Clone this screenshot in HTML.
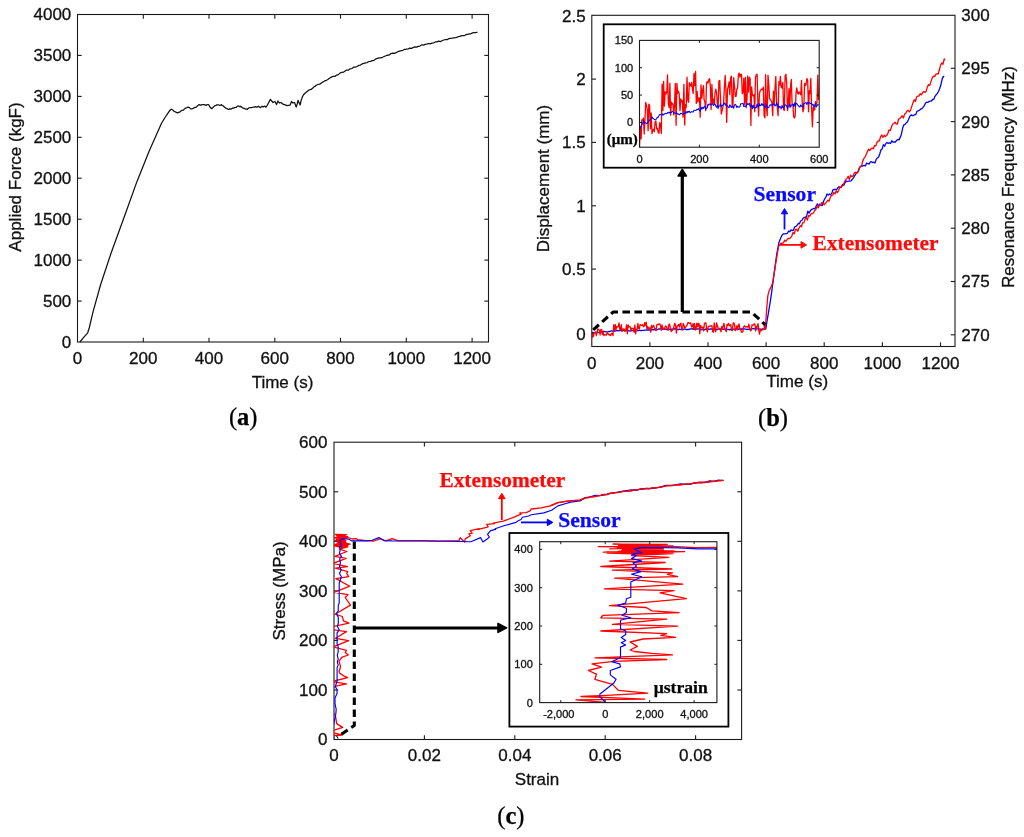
<!DOCTYPE html>
<html lang="en"><head><meta charset="utf-8"><title>Figure: applied force, displacement and stress-strain</title>
<style>html,body{margin:0;padding:0;background:#fff;}svg{display:block;}text{white-space:pre;}</style></head><body>
<svg width="1024" height="837" viewBox="0 0 1024 837" role="img" aria-label="Three-panel figure">
<rect x="0" y="0" width="1024" height="837" fill="#fff"/>
<rect x="77.5" y="14.5" width="411" height="327.5" fill="none" stroke="#1a1a1a" stroke-width="1.1"/>
<text transform="translate(77.5 364.2) scale(1.025 1)" font-family='"Liberation Sans", Arial, Helvetica, sans-serif' font-size="16.6" font-weight="normal" text-anchor="middle" fill="#111" stroke="#111" stroke-width="0.3" >0</text>
<line x1="143.3" y1="342" x2="143.3" y2="337.8" stroke="#1a1a1a" stroke-width="1.1" />
<line x1="143.3" y1="14.5" x2="143.3" y2="18.7" stroke="#1a1a1a" stroke-width="1.1" />
<text transform="translate(143.3 364.2) scale(1.025 1)" font-family='"Liberation Sans", Arial, Helvetica, sans-serif' font-size="16.6" font-weight="normal" text-anchor="middle" fill="#111" stroke="#111" stroke-width="0.3" >200</text>
<line x1="209" y1="342" x2="209" y2="337.8" stroke="#1a1a1a" stroke-width="1.1" />
<line x1="209" y1="14.5" x2="209" y2="18.7" stroke="#1a1a1a" stroke-width="1.1" />
<text transform="translate(209 364.2) scale(1.025 1)" font-family='"Liberation Sans", Arial, Helvetica, sans-serif' font-size="16.6" font-weight="normal" text-anchor="middle" fill="#111" stroke="#111" stroke-width="0.3" >400</text>
<line x1="274.8" y1="342" x2="274.8" y2="337.8" stroke="#1a1a1a" stroke-width="1.1" />
<line x1="274.8" y1="14.5" x2="274.8" y2="18.7" stroke="#1a1a1a" stroke-width="1.1" />
<text transform="translate(274.8 364.2) scale(1.025 1)" font-family='"Liberation Sans", Arial, Helvetica, sans-serif' font-size="16.6" font-weight="normal" text-anchor="middle" fill="#111" stroke="#111" stroke-width="0.3" >600</text>
<line x1="340.5" y1="342" x2="340.5" y2="337.8" stroke="#1a1a1a" stroke-width="1.1" />
<line x1="340.5" y1="14.5" x2="340.5" y2="18.7" stroke="#1a1a1a" stroke-width="1.1" />
<text transform="translate(340.5 364.2) scale(1.025 1)" font-family='"Liberation Sans", Arial, Helvetica, sans-serif' font-size="16.6" font-weight="normal" text-anchor="middle" fill="#111" stroke="#111" stroke-width="0.3" >800</text>
<line x1="406.3" y1="342" x2="406.3" y2="337.8" stroke="#1a1a1a" stroke-width="1.1" />
<line x1="406.3" y1="14.5" x2="406.3" y2="18.7" stroke="#1a1a1a" stroke-width="1.1" />
<text transform="translate(406.3 364.2) scale(1.025 1)" font-family='"Liberation Sans", Arial, Helvetica, sans-serif' font-size="16.6" font-weight="normal" text-anchor="middle" fill="#111" stroke="#111" stroke-width="0.3" >1000</text>
<line x1="472.1" y1="342" x2="472.1" y2="337.8" stroke="#1a1a1a" stroke-width="1.1" />
<line x1="472.1" y1="14.5" x2="472.1" y2="18.7" stroke="#1a1a1a" stroke-width="1.1" />
<text transform="translate(472.1 364.2) scale(1.025 1)" font-family='"Liberation Sans", Arial, Helvetica, sans-serif' font-size="16.6" font-weight="normal" text-anchor="middle" fill="#111" stroke="#111" stroke-width="0.3" >1200</text>
<text transform="translate(71.3 347.9) scale(1.025 1)" font-family='"Liberation Sans", Arial, Helvetica, sans-serif' font-size="16.6" font-weight="normal" text-anchor="end" fill="#111" stroke="#111" stroke-width="0.3" >0</text>
<line x1="77.5" y1="301.1" x2="81.7" y2="301.1" stroke="#1a1a1a" stroke-width="1.1" />
<line x1="488.5" y1="301.1" x2="484.3" y2="301.1" stroke="#1a1a1a" stroke-width="1.1" />
<text transform="translate(71.3 307) scale(1.025 1)" font-family='"Liberation Sans", Arial, Helvetica, sans-serif' font-size="16.6" font-weight="normal" text-anchor="end" fill="#111" stroke="#111" stroke-width="0.3" >500</text>
<line x1="77.5" y1="260.1" x2="81.7" y2="260.1" stroke="#1a1a1a" stroke-width="1.1" />
<line x1="488.5" y1="260.1" x2="484.3" y2="260.1" stroke="#1a1a1a" stroke-width="1.1" />
<text transform="translate(71.3 266) scale(1.025 1)" font-family='"Liberation Sans", Arial, Helvetica, sans-serif' font-size="16.6" font-weight="normal" text-anchor="end" fill="#111" stroke="#111" stroke-width="0.3" >1000</text>
<line x1="77.5" y1="219.2" x2="81.7" y2="219.2" stroke="#1a1a1a" stroke-width="1.1" />
<line x1="488.5" y1="219.2" x2="484.3" y2="219.2" stroke="#1a1a1a" stroke-width="1.1" />
<text transform="translate(71.3 225.1) scale(1.025 1)" font-family='"Liberation Sans", Arial, Helvetica, sans-serif' font-size="16.6" font-weight="normal" text-anchor="end" fill="#111" stroke="#111" stroke-width="0.3" >1500</text>
<line x1="77.5" y1="178.2" x2="81.7" y2="178.2" stroke="#1a1a1a" stroke-width="1.1" />
<line x1="488.5" y1="178.2" x2="484.3" y2="178.2" stroke="#1a1a1a" stroke-width="1.1" />
<text transform="translate(71.3 184.2) scale(1.025 1)" font-family='"Liberation Sans", Arial, Helvetica, sans-serif' font-size="16.6" font-weight="normal" text-anchor="end" fill="#111" stroke="#111" stroke-width="0.3" >2000</text>
<line x1="77.5" y1="137.3" x2="81.7" y2="137.3" stroke="#1a1a1a" stroke-width="1.1" />
<line x1="488.5" y1="137.3" x2="484.3" y2="137.3" stroke="#1a1a1a" stroke-width="1.1" />
<text transform="translate(71.3 143.2) scale(1.025 1)" font-family='"Liberation Sans", Arial, Helvetica, sans-serif' font-size="16.6" font-weight="normal" text-anchor="end" fill="#111" stroke="#111" stroke-width="0.3" >2500</text>
<line x1="77.5" y1="96.4" x2="81.7" y2="96.4" stroke="#1a1a1a" stroke-width="1.1" />
<line x1="488.5" y1="96.4" x2="484.3" y2="96.4" stroke="#1a1a1a" stroke-width="1.1" />
<text transform="translate(71.3 102.3) scale(1.025 1)" font-family='"Liberation Sans", Arial, Helvetica, sans-serif' font-size="16.6" font-weight="normal" text-anchor="end" fill="#111" stroke="#111" stroke-width="0.3" >3000</text>
<line x1="77.5" y1="55.4" x2="81.7" y2="55.4" stroke="#1a1a1a" stroke-width="1.1" />
<line x1="488.5" y1="55.4" x2="484.3" y2="55.4" stroke="#1a1a1a" stroke-width="1.1" />
<text transform="translate(71.3 61.3) scale(1.025 1)" font-family='"Liberation Sans", Arial, Helvetica, sans-serif' font-size="16.6" font-weight="normal" text-anchor="end" fill="#111" stroke="#111" stroke-width="0.3" >3500</text>
<text transform="translate(71.3 20.4) scale(1.025 1)" font-family='"Liberation Sans", Arial, Helvetica, sans-serif' font-size="16.6" font-weight="normal" text-anchor="end" fill="#111" stroke="#111" stroke-width="0.3" >4000</text>
<text transform="translate(21.2 177) rotate(-90) scale(1.025 1)" font-family='"Liberation Sans", Arial, Helvetica, sans-serif' font-size="16.6" font-weight="normal" text-anchor="middle" fill="#111" stroke="#111" stroke-width="0.3" >Applied Force (kgF)</text>
<text transform="translate(282.5 387.5) scale(1.025 1)" font-family='"Liberation Sans", Arial, Helvetica, sans-serif' font-size="16.6" font-weight="normal" text-anchor="middle" fill="#111" stroke="#111" stroke-width="0.3" >Time (s)</text>
<polyline points="80,342 83.2,337.8 87.7,332.8 89.2,328 92.9,312.4 100.5,285 111.1,253 123.3,219.5 137,181.4 149.2,150.9 161.4,123.5 165,117.5 167.5,113.8 169.5,110.8 171.2,109.2 172.5,109.8 174,111.2 177.4,112.9 180,111.8 181.6,110.6 182,110.3 183.2,110.2 184.8,108.6 185,108.3 186.4,107.8 187.2,107.5 188,107.1 189.6,107.5 190,108.2 191.2,109 192.8,108.7 194.4,107.6 195,107.4 196,107.4 197.6,105.8 199.2,104.6 200.8,105.3 201.2,104.9 202.4,104.7 204,104.6 205.6,105.2 206,105.5 207.2,104.6 208.5,104.6 208.8,105 210.4,107.6 212,108.6 213.6,106.8 215.2,105.6 216,105.5 216.8,104.8 218.4,104.8 220,105.5 221.6,104.6 222,105.5 223.2,105.8 224.8,107.5 226.4,108.4 228,109.1 229,109.4 229.6,108.8 231.2,109.1 232.8,107.9 234,108.1 234.4,107.5 236,107.4 237.6,106.1 239.2,106.1 240,106.9 240.8,106.2 242.4,107.8 244,108.3 245.6,109.1 247.2,109.1 247.4,109.3 248.8,107.9 250.4,107.5 252,107.5 253.6,107 255,107.1 255.2,106.6 256.8,107.3 258.4,106.2 260,107.6 261.6,106.7 262,106.2 263.2,106.9 264.8,106.1 265.7,107.2 266.4,106.7 267.5,104.7 270.4,99.4 273,102.5 275,101.5 276.5,104.6 278,101 279.5,103 281,102.5 283,104.2 287.2,105.7 290,105.2 291.5,101.4 293,103 294.5,102.5 296.2,107 297.2,104 298,100.3 300.1,105 301,101 302.3,97.1 303.5,94.8 305.5,92.8 306,92.5 307.7,91 309.4,89.8 311.1,89.4 312.8,88 314.5,86.4 315.2,86.3 316.2,85.3 317.9,84.5 319.6,84.1 321.3,83.1 323,82 324.7,80.9 326.4,80.3 328,79.5 328.1,79.2 329.8,78 331.5,77.1 333.2,76.3 334.9,76.4 336.6,75.1 338.3,74.6 340,73.1 341.7,72.3 342,72.5 343.4,72.2 345.1,71 346.8,70 348.5,70.1 350.2,68.8 351.9,68.5 353.6,67.2 355,67.1 355.3,67.2 357,66.5 358.7,65.4 360.4,65.1 362.1,63.9 363.8,63.4 365.5,62.8 367.2,62.6 368.9,61.5 370.6,61.4 372.3,60.7 374,60.3 375.7,59.1 377.4,58.3 379.1,57.8 380.8,57.8 382.5,57.3 384.2,56.5 385.9,55.7 387,55.2 387.6,55.4 389.3,54.9 391,53.6 392.7,53.2 394.4,53.3 396.1,52.7 397.8,51.7 399.5,51.1 401.2,50.7 402.9,50.3 404.6,49.3 405.5,49.5 406.3,49.2 408,49 409.7,48.1 411.4,48.4 413.1,47.7 414.8,46.9 416.5,47.1 418.2,46.4 419.9,46.1 421.6,44.9 423,44.8 423.3,45.2 425,44.4 426.7,44.2 428.4,43.5 430.1,43.9 431.8,43.1 433.5,43 435.2,41.9 436.9,41.9 438.6,41.1 440.3,41.6 442,40.8 443.7,40 445.4,39.5 447.1,39.6 448.8,38.7 450.5,38.4 452.2,38.2 453.9,37.9 455.6,37.6 457.3,37.2 459,36.5 460,36.4 460.7,35.9 462.4,35.6 464.1,35.7 465.8,34.7 467.5,34.3 469.2,33.9 470.9,33.8 472.6,32.9 474.3,32.5 476,32.5 477.5,32.1" fill="none" stroke="#111" stroke-width="1.25" stroke-linejoin="round" />
<text transform="translate(243.2 425.4)" font-family='"Liberation Serif", "Times New Roman", Times, serif' font-size="24.5" font-weight="normal" text-anchor="middle" fill="#000" stroke="#000" stroke-width="0.25" >(<tspan font-weight="bold">a</tspan>)</text>
<rect x="591.8" y="15.3" width="363.2" height="331.2" fill="none" stroke="#1a1a1a" stroke-width="1.1"/>
<text transform="translate(591.8 368.8) scale(1.025 1)" font-family='"Liberation Sans", Arial, Helvetica, sans-serif' font-size="16.6" font-weight="normal" text-anchor="middle" fill="#111" stroke="#111" stroke-width="0.3" >0</text>
<line x1="649.9" y1="346.5" x2="649.9" y2="342.3" stroke="#1a1a1a" stroke-width="1.1" />
<text transform="translate(649.9 368.8) scale(1.025 1)" font-family='"Liberation Sans", Arial, Helvetica, sans-serif' font-size="16.6" font-weight="normal" text-anchor="middle" fill="#111" stroke="#111" stroke-width="0.3" >200</text>
<line x1="708" y1="346.5" x2="708" y2="342.3" stroke="#1a1a1a" stroke-width="1.1" />
<text transform="translate(708 368.8) scale(1.025 1)" font-family='"Liberation Sans", Arial, Helvetica, sans-serif' font-size="16.6" font-weight="normal" text-anchor="middle" fill="#111" stroke="#111" stroke-width="0.3" >400</text>
<line x1="766.1" y1="346.5" x2="766.1" y2="342.3" stroke="#1a1a1a" stroke-width="1.1" />
<text transform="translate(766.1 368.8) scale(1.025 1)" font-family='"Liberation Sans", Arial, Helvetica, sans-serif' font-size="16.6" font-weight="normal" text-anchor="middle" fill="#111" stroke="#111" stroke-width="0.3" >600</text>
<line x1="824.2" y1="346.5" x2="824.2" y2="342.3" stroke="#1a1a1a" stroke-width="1.1" />
<text transform="translate(824.2 368.8) scale(1.025 1)" font-family='"Liberation Sans", Arial, Helvetica, sans-serif' font-size="16.6" font-weight="normal" text-anchor="middle" fill="#111" stroke="#111" stroke-width="0.3" >800</text>
<line x1="882.4" y1="346.5" x2="882.4" y2="342.3" stroke="#1a1a1a" stroke-width="1.1" />
<text transform="translate(882.4 368.8) scale(1.025 1)" font-family='"Liberation Sans", Arial, Helvetica, sans-serif' font-size="16.6" font-weight="normal" text-anchor="middle" fill="#111" stroke="#111" stroke-width="0.3" >1000</text>
<line x1="940.5" y1="346.5" x2="940.5" y2="342.3" stroke="#1a1a1a" stroke-width="1.1" />
<text transform="translate(940.5 368.8) scale(1.025 1)" font-family='"Liberation Sans", Arial, Helvetica, sans-serif' font-size="16.6" font-weight="normal" text-anchor="middle" fill="#111" stroke="#111" stroke-width="0.3" >1200</text>
<line x1="591.8" y1="332.5" x2="596" y2="332.5" stroke="#1a1a1a" stroke-width="1.1" />
<text transform="translate(585.6 339.5) scale(1.025 1)" font-family='"Liberation Sans", Arial, Helvetica, sans-serif' font-size="16.6" font-weight="normal" text-anchor="end" fill="#111" stroke="#111" stroke-width="0.3" >0</text>
<line x1="591.8" y1="269.1" x2="596" y2="269.1" stroke="#1a1a1a" stroke-width="1.1" />
<text transform="translate(585.6 275) scale(1.025 1)" font-family='"Liberation Sans", Arial, Helvetica, sans-serif' font-size="16.6" font-weight="normal" text-anchor="end" fill="#111" stroke="#111" stroke-width="0.3" >0.5</text>
<line x1="591.8" y1="205.8" x2="596" y2="205.8" stroke="#1a1a1a" stroke-width="1.1" />
<text transform="translate(585.6 211.7) scale(1.025 1)" font-family='"Liberation Sans", Arial, Helvetica, sans-serif' font-size="16.6" font-weight="normal" text-anchor="end" fill="#111" stroke="#111" stroke-width="0.3" >1</text>
<line x1="591.8" y1="142.4" x2="596" y2="142.4" stroke="#1a1a1a" stroke-width="1.1" />
<text transform="translate(585.6 148.3) scale(1.025 1)" font-family='"Liberation Sans", Arial, Helvetica, sans-serif' font-size="16.6" font-weight="normal" text-anchor="end" fill="#111" stroke="#111" stroke-width="0.3" >1.5</text>
<line x1="591.8" y1="79.1" x2="596" y2="79.1" stroke="#1a1a1a" stroke-width="1.1" />
<text transform="translate(585.6 85) scale(1.025 1)" font-family='"Liberation Sans", Arial, Helvetica, sans-serif' font-size="16.6" font-weight="normal" text-anchor="end" fill="#111" stroke="#111" stroke-width="0.3" >2</text>
<text transform="translate(585.6 21.6) scale(1.025 1)" font-family='"Liberation Sans", Arial, Helvetica, sans-serif' font-size="16.6" font-weight="normal" text-anchor="end" fill="#111" stroke="#111" stroke-width="0.3" >2.5</text>
<line x1="955" y1="334.8" x2="950.8" y2="334.8" stroke="#1a1a1a" stroke-width="1.1" />
<text transform="translate(961.3 340.7) scale(1.025 1)" font-family='"Liberation Sans", Arial, Helvetica, sans-serif' font-size="16.6" font-weight="normal" text-anchor="start" fill="#111" stroke="#111" stroke-width="0.3" >270</text>
<line x1="955" y1="281.5" x2="950.8" y2="281.5" stroke="#1a1a1a" stroke-width="1.1" />
<text transform="translate(961.3 287.4) scale(1.025 1)" font-family='"Liberation Sans", Arial, Helvetica, sans-serif' font-size="16.6" font-weight="normal" text-anchor="start" fill="#111" stroke="#111" stroke-width="0.3" >275</text>
<line x1="955" y1="228.2" x2="950.8" y2="228.2" stroke="#1a1a1a" stroke-width="1.1" />
<text transform="translate(961.3 234.1) scale(1.025 1)" font-family='"Liberation Sans", Arial, Helvetica, sans-serif' font-size="16.6" font-weight="normal" text-anchor="start" fill="#111" stroke="#111" stroke-width="0.3" >280</text>
<line x1="955" y1="174.9" x2="950.8" y2="174.9" stroke="#1a1a1a" stroke-width="1.1" />
<text transform="translate(961.3 180.8) scale(1.025 1)" font-family='"Liberation Sans", Arial, Helvetica, sans-serif' font-size="16.6" font-weight="normal" text-anchor="start" fill="#111" stroke="#111" stroke-width="0.3" >285</text>
<line x1="955" y1="121.6" x2="950.8" y2="121.6" stroke="#1a1a1a" stroke-width="1.1" />
<text transform="translate(961.3 127.5) scale(1.025 1)" font-family='"Liberation Sans", Arial, Helvetica, sans-serif' font-size="16.6" font-weight="normal" text-anchor="start" fill="#111" stroke="#111" stroke-width="0.3" >290</text>
<line x1="955" y1="68.3" x2="950.8" y2="68.3" stroke="#1a1a1a" stroke-width="1.1" />
<text transform="translate(961.3 74.2) scale(1.025 1)" font-family='"Liberation Sans", Arial, Helvetica, sans-serif' font-size="16.6" font-weight="normal" text-anchor="start" fill="#111" stroke="#111" stroke-width="0.3" >295</text>
<text transform="translate(961.3 20.9) scale(1.025 1)" font-family='"Liberation Sans", Arial, Helvetica, sans-serif' font-size="16.6" font-weight="normal" text-anchor="start" fill="#111" stroke="#111" stroke-width="0.3" >300</text>
<text transform="translate(549.4 178.5) rotate(-90) scale(1.025 1)" font-family='"Liberation Sans", Arial, Helvetica, sans-serif' font-size="16.6" font-weight="normal" text-anchor="middle" fill="#111" stroke="#111" stroke-width="0.3" >Displacement (mm)</text>
<text transform="translate(1014.3 177) rotate(-90) scale(1.025 1)" font-family='"Liberation Sans", Arial, Helvetica, sans-serif' font-size="16.6" font-weight="normal" text-anchor="middle" fill="#111" stroke="#111" stroke-width="0.3" >Resonance Frequency (MHz)</text>
<text transform="translate(797.2 387.2) scale(1.025 1)" font-family='"Liberation Sans", Arial, Helvetica, sans-serif' font-size="16.6" font-weight="normal" text-anchor="middle" fill="#111" stroke="#111" stroke-width="0.3" >Time (s)</text>
<polyline points="591.8,333.6 592.6,333.5 593.3,333.1 594.1,332.9 594.8,332.6 595.6,332.1 596.3,332.5 597.1,332.5 597.8,332.5 598.6,332.7 599.4,332.5 600.1,332.3 600.9,332.2 601.6,332 602.4,331.9 603.1,331.6 603.9,331.4 604.6,331.6 605.4,331.7 606.2,331.9 606.9,331.9 607.7,331.9 608.4,331.7 609.2,331.5 609.9,331.5 610.7,331.1 611.4,330.9 612.2,330.9 613,331 613.7,331.1 614.5,330.8 615.2,331 616,330.9 616.7,330.7 617.5,330.7 618.2,330.8 619,330.6 619.8,330.5 620.5,330.7 621.3,330.5 622,330.6 622.8,330.6 623.5,330.3 624.3,330.4 625,330.7 625.8,330.6 626.6,330.7 627.3,330.7 628.1,330.7 628.8,330.9 629.6,330.8 630.3,331 631.1,330.9 631.8,330.7 632.6,330.7 633.4,330.9 634.1,330.9 634.9,330.7 635.6,330.7 636.4,330.5 637.1,330.7 637.9,330.3 638.6,330.6 639.4,330.3 640.1,330.3 640.9,330.6 641.7,330.5 642.4,330.4 643.2,330.4 643.9,330.4 644.7,330.1 645.4,330.1 646.2,330.1 646.9,330.1 647.7,329.9 648.5,330 649.2,329.8 650,330.2 650.7,330.3 651.5,329.5 652.2,329.9 653,329.5 653.7,329.8 654.5,329.5 655.3,329.3 656,330 656.8,329.7 657.5,329.7 658.3,328.9 659,329.1 659.8,328.9 660.5,328.9 661.3,329 662.1,329 662.8,328.9 663.6,329.2 664.3,329 665.1,328.9 665.8,329.3 666.6,329.5 667.3,329.1 668.1,329.6 668.9,329.4 669.6,329.3 670.4,328.9 671.1,329.5 671.9,329.2 672.6,329.2 673.4,328.8 674.1,328.7 674.9,329.1 675.7,328.9 676.4,329.3 677.2,329.3 677.9,329.5 678.7,329.6 679.4,329 680.2,329.3 680.9,329.6 681.7,329.3 682.5,329.4 683.2,329.7 684,329.1 684.7,329 685.5,329.2 686.2,329.6 687,329.3 687.7,329.5 688.5,329.5 689.3,329.4 690,328.8 690.8,328.9 691.5,328.9 692.3,328.7 693,329.4 693.8,329.3 694.5,329.4 695.3,329.4 696.1,328.8 696.8,329 697.6,328.9 698.3,328.8 699.1,329.3 699.8,329.5 700.6,329 701.3,329.8 702.1,329.1 702.9,329.6 703.6,329.8 704.4,329.6 705.1,329.6 705.9,328.9 706.6,329.5 707.4,329.4 708.1,328.9 708.9,329.3 709.7,329.2 710.4,328.8 711.2,329.2 711.9,328.9 712.7,329.3 713.4,329.5 714.2,329.6 714.9,328.9 715.7,329.6 716.5,329.7 717.2,329.6 718,329.2 718.7,329 719.5,329.2 720.2,329 721,329.1 721.7,328.9 722.5,328.9 723.2,329.3 724,329.1 724.8,328.6 725.5,329.2 726.3,329.1 727,329.7 727.8,329.4 728.5,329.4 729.3,329.9 730,329.2 730.8,329.6 731.6,329.6 732.3,329.3 733.1,329.1 733.8,329.1 734.6,329.3 735.3,329.7 736.1,329.3 736.8,329.2 737.6,328.9 738.4,329.5 739.1,329.2 739.9,329 740.6,328.9 741.4,329.4 742.1,328.7 742.9,329.3 743.6,328.7 744.4,328.8 745.2,329.1 745.9,329.2 746.7,329.4 747.4,329.5 748.2,329.1 748.9,329.3 749.7,329.4 750.4,329.4 751.2,328.8 752,328.8 752.7,328.7 753.5,328.6 754.2,329 755,328.6 755.7,328.8 756.5,328.6 757.2,328.8 758,328.8 758.8,328.8 759.5,329.1 760.3,329 761,329.5 761.8,329.3 762.5,328.9 763.3,329.5 764,329.3 764.8,329 765.6,329.1 765.8,328.9 767,321.2 768.2,314.1 769.4,306.8 770.6,299.7 771.8,291.2 773,281.9 774.2,273 775.4,264 776.6,255.1 777.8,248.3 779,242.3 780.2,239.3 781.4,236.5 782.6,234.4 783.8,233.9 785,233.9 786.2,233.6 787.4,233.3 788.6,231 789.8,231.8 791,229.9 792.2,230.5 793.4,230.3 794.6,227 795.8,226.4 797,225.5 798.2,223.5 799.4,223.8 800.6,221 801.8,220.5 803,218.6 804.2,217.5 805.4,217.2 806.6,216.4 807.8,211.2 809,213.1 810.2,211.1 811.4,209.3 812.6,209.1 813.8,208.4 815,208.9 816.2,206 817.4,203.9 818.6,206.3 819.8,204 821,205.3 822.2,205.5 823.4,201.8 824.6,198.9 825.8,197.3 827,194 828.2,195.1 829.4,193.9 830.6,194.8 831.8,193.2 833,189.8 834.2,189.3 835.4,189.5 836.6,189.6 837.8,187.8 839,186.8 840.2,187.6 841.4,186.9 842.6,184.4 843.8,185.3 845,182.8 846.2,181.1 847.4,181.5 848.6,181.1 849.8,181.1 851,180.9 852.2,179.5 853.4,177.8 854.6,175.9 855.8,174.1 857,172.5 858.2,171.3 859.4,167.8 860.6,166.4 861.8,166.4 863,165.6 864.2,165.4 865.4,166 866.6,163 867.8,163.7 869,164.2 870.2,162.1 871.4,161.7 872.6,162.6 873.8,162.2 875,163 876.2,159.4 877.4,157.9 878.6,157 879.8,153.7 881,149.7 882.2,148.9 883.4,144.7 884.6,146.2 885.8,143.6 887,142.4 888.2,143.6 889.4,142.7 890.6,143.5 891.8,140.7 893,142.1 894.2,141.8 895.4,142 896.6,140.4 897.8,139.4 899,139.9 900.2,137.4 901.4,134.2 902.6,128.4 903.8,124.8 905,124.5 906.2,122.8 907.4,122 908.6,119.3 909.8,116.4 911,114.9 912.2,115.6 913.4,115.5 914.6,114.7 915.8,114.5 917,111.1 918.2,110.9 919.4,110.2 920.6,109.2 921.8,108.7 923,107.4 924.2,105.9 925.4,103.3 926.6,102.1 927.8,102.4 929,101.4 930.2,101.1 931.4,101 932.6,99.5 933.8,99.3 935,96.3 936.2,94.7 937.4,93.4 938.6,91.3 939.8,88.3 941,84.2 942.2,78.9 943.4,76.4 944.2,77.1" fill="none" stroke="#0000ff" stroke-width="1.3" stroke-linejoin="round" />
<polyline points="591.8,338.5 592.6,334.1 593.3,336.7 594.1,332.7 594.8,332.7 595.6,332.2 596.3,335.7 597.1,332.2 597.8,328.9 598.6,329.6 599.4,330.5 600.1,335 600.9,329.3 601.6,329.5 602.4,334.6 603.1,331.2 603.9,335.6 604.6,334.9 605.4,334.7 606.2,335.2 606.9,333.1 607.7,332.9 608.4,334.6 609.2,334.4 609.9,335.4 610.7,335.5 611.4,333.3 612.2,333.7 613,335.6 613.7,324.9 614.5,330.6 615.2,324.3 616,329.7 616.7,326.6 617.5,327 618.2,326.7 619,322.9 619.8,329.1 620.5,330 621.3,324.7 622,331.7 622.8,328.8 623.5,329.2 624.3,329.2 625,331.6 625.8,329.5 626.6,324.8 627.3,333.8 628.1,324.8 628.8,327 629.6,326.4 630.3,327.1 631.1,330.7 631.8,328.1 632.6,328.7 633.4,328.5 634.1,332.1 634.9,325 635.6,333.8 636.4,329.4 637.1,330 637.9,323.4 638.6,328.5 639.4,328.9 640.1,324.6 640.9,325 641.7,325.4 642.4,324.6 643.2,326.2 643.9,326.9 644.7,322.6 645.4,325.3 646.2,322.2 646.9,329.1 647.7,326.5 648.5,328.8 649.2,327.9 650,328 650.7,332.1 651.5,325.1 652.2,328 653,326.4 653.7,325.3 654.5,328.3 655.3,328.8 656,330.7 656.8,324.8 657.5,324.4 658.3,324.7 659,324 659.8,323.8 660.5,325.7 661.3,330.4 662.1,325 662.8,329.1 663.6,328.1 664.3,329.2 665.1,326.9 665.8,326 666.6,326.8 667.3,329.3 668.1,330.2 668.9,324.3 669.6,324.1 670.4,328.1 671.1,331.4 671.9,330.7 672.6,330 673.4,329 674.1,325.6 674.9,323.1 675.7,326.4 676.4,333.2 677.2,326.1 677.9,325.5 678.7,324.5 679.4,327.2 680.2,323.7 680.9,323.2 681.7,329.6 682.5,330 683.2,323.5 684,325.4 684.7,327.6 685.5,327.6 686.2,326.1 687,325.7 687.7,322.9 688.5,322.6 689.3,323.5 690,322.9 690.8,322.8 691.5,327 692.3,326.7 693,323.6 693.8,329.3 694.5,323.5 695.3,330 696.1,328.3 696.8,323.2 697.6,326.6 698.3,323.5 699.1,323.7 699.8,333.8 700.6,325.5 701.3,327.3 702.1,327.5 702.9,327.2 703.6,330.9 704.4,323.5 705.1,322.9 705.9,322.8 706.6,328.9 707.4,331.8 708.1,327 708.9,326.3 709.7,326.1 710.4,326 711.2,326.1 711.9,325.6 712.7,331.7 713.4,332.2 714.2,322.9 714.9,329.9 715.7,331.7 716.5,323 717.2,325 718,328 718.7,328.3 719.5,328.5 720.2,328.9 721,331.8 721.7,326.5 722.5,329.3 723.2,325.8 724,323.3 724.8,328.9 725.5,329.9 726.3,331.8 727,324.4 727.8,325.2 728.5,323.3 729.3,325.6 730,325.8 730.8,324.6 731.6,330.5 732.3,330.6 733.1,323.2 733.8,322.8 734.6,324.8 735.3,330.6 736.1,329.4 736.8,325.9 737.6,329.9 738.4,325.2 739.1,324 739.9,329.2 740.6,329.4 741.4,332 742.1,332.3 742.9,331.6 743.6,326.8 744.4,325.8 745.2,326.9 745.9,327.1 746.7,326.6 747.4,326.8 748.2,327.2 748.9,324.1 749.7,328.9 750.4,330.9 751.2,330.2 752,324.8 752.7,325.3 753.5,325 754.2,323.7 755,324.2 755.7,330.9 756.5,326.4 757.2,327 758,323.7 758.8,330.1 759.5,334.2 760.3,330 761,330.5 761.8,330.5 762.5,328.7 763.3,329.3 764,328.9 764.8,323 765.6,328.3 765.4,327.7 766.6,310.1 767.8,295.9 769,291.2 770.2,288.4 771.4,286.2 772.6,283 773.8,275.5 775,268.2 776.2,260.5 777.4,253.3 778.6,246.5 779.8,244.6 781,243.2 782.2,243.5 783.4,243 784.6,240.2 785.8,241.4 787,239.7 788.2,238.3 789.4,238.6 790.6,237.8 791.8,236 793,232.5 794.2,233.7 795.4,229.8 796.6,229.2 797.8,231.2 799,228 800.2,225.7 801.4,226.8 802.6,222.8 803.8,222.9 805,219.4 806.2,217.3 807.4,220.1 808.6,215.4 809.8,216.2 811,213.9 812.2,213.7 813.4,212.9 814.6,210.8 815.8,209.6 817,206.5 818.2,207.9 819.4,204.9 820.6,205.2 821.8,202.5 823,203.2 824.2,204.9 825.4,203.2 826.6,202 827.8,200.3 829,201.2 830.2,197.7 831.4,195.3 832.6,195.2 833.8,192.5 835,193.9 836.2,190.8 837.4,192.6 838.6,190.5 839.8,186.7 841,187.5 842.2,185.9 843.4,184.6 844.6,181.6 845.8,179.7 847,178.3 848.2,176.2 849.4,179.4 850.6,175.2 851.8,176.6 853,176 854.2,173.3 855.4,172.2 856.6,173.4 857.8,172.2 859,169.7 860.2,166.3 861.4,166.4 862.6,161.7 863.8,158.6 865,157.1 866.2,154.4 867.4,151.6 868.6,149.1 869.8,150.6 871,148.8 872.2,147.9 873.4,148.8 874.6,145.5 875.8,145.9 877,142.2 878.2,141 879.4,140.8 880.6,136.6 881.8,134.9 883,137.5 884.2,135.3 885.4,136.5 886.6,135.6 887.8,133.7 889,130 890.2,130.7 891.4,127 892.6,124.2 893.8,123.5 895,122.2 896.2,123.9 897.4,124 898.6,118.9 899.8,118.6 901,117.3 902.2,115.7 903.4,118 904.6,114.1 905.8,113.3 907,110.8 908.2,110.4 909.4,111.9 910.6,110 911.8,106.4 913,102.6 914.2,99.7 915.4,101.5 916.6,97 917.8,96.1 919,96 920.2,93.6 921.4,94.9 922.6,92.6 923.8,91.6 925,92.4 926.2,91.2 927.4,86.9 928.6,84.6 929.8,85.4 931,81.4 932.2,78.1 933.4,76.2 934.6,76.6 935.8,74.4 937,73.7 938.2,74 939.4,69.8 940.6,65.3 941.8,62.9 943,64.2 944.2,58.8 945,60.3" fill="none" stroke="#ff0000" stroke-width="1.3" stroke-linejoin="round" />
<polyline points="593.2,329.8 613.2,312 751.4,312 765.2,324.8" fill="none" stroke="#000" stroke-width="3.1" stroke-dasharray="7.6 4.4" stroke-linejoin="round"/>
<line x1="682.3" y1="312" x2="682.3" y2="176" stroke="#000" stroke-width="3.2" />
<polygon points="682.3,169.4 678.2,176 686.4,176" fill="#000" stroke="#000" stroke-width="1.6" stroke-linejoin="round"/>
<rect x="603.7" y="24.3" width="231.7" height="143.4" fill="#fff" stroke="#000" stroke-width="1.8"/>
<clipPath id="cb"><rect x="639.5" y="40.4" width="179.7" height="106.8"/></clipPath>
<g clip-path="url(#cb)">
<polyline points="639.5,147 640.3,126.8 641.1,138.8 641.8,120 642.6,120.2 643.4,118 644.2,134 645,117.9 645.7,102.5 646.5,105.6 647.3,109.7 648.1,130.7 648.8,104.1 649.6,105.4 650.4,128.8 651.2,113 652,133.7 652.7,130.5 653.5,129.2 654.3,131.8 655.1,122 655.9,121 656.6,128.8 657.4,128.1 658.2,132.6 659,133.1 659.7,122.7 660.5,124.6 661.3,133.5 662.1,84.1 662.9,110.4 663.6,81.4 664.4,106 665.2,91.7 666,93.9 666.8,92.1 667.5,74.8 668.3,103.2 669.1,107.5 669.9,83.2 670.6,115.2 671.4,102.1 672.2,104.1 673,104 673.8,114.9 674.5,105.3 675.3,83.4 676.1,125.3 676.9,83.3 677.7,93.4 678.4,91.1 679.2,93.9 680,110.6 680.8,98.9 681.5,101.8 682.3,100.7 683.1,117.1 683.9,84.3 684.7,125.1 685.4,104.6 686.2,107.7 687,77.2 687.8,100.5 688.6,102.3 689.3,82.7 690.1,84.6 690.9,86.1 691.7,82.5 692.5,89.9 693.2,93.4 694,73.5 694.8,85.7 695.6,71.5 696.3,103.4 697.1,91.3 697.9,102 698.7,97.8 699.5,98.1 700.2,117.2 701,84.8 701.8,98.2 702.6,90.8 703.4,85.6 704.1,99.7 704.9,101.9 705.7,110.6 706.5,83.3 707.2,81.6 708,83.2 708.8,79.7 709.6,78.8 710.4,87.6 711.1,109.6 711.9,84.4 712.7,103.4 713.5,98.9 714.3,104.1 715,93.2 715.8,89.2 716.6,92.8 717.4,104.1 718.1,108.5 718.9,81 719.7,80.4 720.5,98.8 721.3,114 722,111 722.8,107.7 723.6,103 724.4,87 725.2,75.4 725.9,90.7 726.7,122.4 727.5,89.3 728.3,86.8 729.1,81.9 729.8,94.7 730.6,78.2 731.4,76.1 732.2,105.5 732.9,107.5 733.7,77.7 734.5,86.3 735.3,96.4 736.1,96.3 736.8,89.6 737.6,87.9 738.4,74.8 739.2,73.1 740,77.2 740.7,74.5 741.5,74.3 742.3,93.7 743.1,92.3 743.8,78.1 744.6,104.3 745.4,77.3 746.2,107.6 747,99.6 747.7,76 748.5,92 749.3,77.2 750.1,78.3 750.9,125.4 751.6,86.8 752.4,95.2 753.2,95.9 754,94.7 754.7,111.7 755.5,77.3 756.3,74.7 757.1,74.3 757.9,102.4 758.6,116 759.4,93.8 760.2,90.6 761,89.7 761.8,89 762.5,89.7 763.3,87.1 764.1,115.6 764.9,117.8 765.6,74.7 766.4,107.2 767.2,115.7 768,75.2 768.8,84.5 769.5,98.1 770.3,99.7 771.1,100.6 771.9,102.5 772.7,115.7 773.4,91.2 774.2,104.3 775,88.2 775.8,76.5 776.6,102.2 777.3,107.2 778.1,115.7 778.9,81.6 779.7,85.1 780.4,76.4 781.2,87.1 782,88.1 782.8,82.4 783.6,109.7 784.3,110.3 785.1,76 785.9,74.3 786.7,83.4 787.5,110.6 788.2,104.9 789,88.6 789.8,107.2 790.6,85.1 791.3,79.5 792.1,104 792.9,105 793.7,116.8 794.5,118 795.2,115.2 796,92.9 796.8,87.9 797.6,93.2 798.4,94 799.1,91.8 799.9,92.8 800.7,94.8 801.5,80.3 802.2,102.6 803,111.9 803.8,108.3 804.6,83.3 805.4,85.7 806.1,84.2 806.9,78.5 807.7,80.5 808.5,111.8 809.3,90.7 810,93.8 810.8,78.3 811.6,108.2 812.4,126.8 813.2,107.4 813.9,110 814.7,109.8 815.5,101.6 816.3,104.4 817,102.2 817.8,75.2 818.6,99.9" fill="none" stroke="#ff0000" stroke-width="1.3" stroke-linejoin="round" />
<polyline points="639.5,128.2 640.3,128.2 641.1,126 641.8,124.8 642.6,123.4 643.4,120.7 644.2,122.7 645,122.7 645.7,122.8 646.5,123.6 647.3,122.8 648.1,121.8 648.8,121.1 649.6,120.2 650.4,119.3 651.2,118.1 652,116.7 652.7,118.3 653.5,118.7 654.3,119.5 655.1,119.8 655.9,119.6 656.6,118.3 657.4,117.3 658.2,117.4 659,115.5 659.7,114.5 660.5,114.5 661.3,115.1 662.1,115.3 662.9,113.7 663.6,114.9 664.4,114.2 665.2,113.3 666,113.4 666.8,113.8 667.5,112.8 668.3,112.3 669.1,113.2 669.9,112.2 670.6,112.6 671.4,112.6 672.2,111.1 673,111.6 673.8,113.2 674.5,112.7 675.3,113.3 676.1,113.4 676.9,113.1 677.7,114.2 678.4,114 679.2,114.7 680,114.2 680.8,113.2 681.5,113.4 682.3,114.1 683.1,114.2 683.9,113.5 684.7,113.6 685.4,112.1 686.2,113.1 687,111.4 687.8,112.6 688.6,111.4 689.3,111.3 690.1,112.7 690.9,112.1 691.7,111.6 692.5,111.9 693.2,112 694,110.2 694.8,110.3 695.6,110.4 696.3,110.2 697.1,109.2 697.9,109.6 698.7,108.5 699.5,110.6 700.2,111.2 701,107.1 701.8,109.3 702.6,107.2 703.4,108.4 704.1,106.8 704.9,106.1 705.7,109.5 706.5,108.2 707.2,108.1 708,104.1 708.8,105.1 709.6,104 710.4,103.8 711.1,104.6 711.9,104.3 712.7,104 713.5,105.5 714.3,104.5 715,103.8 715.8,106.1 716.6,107.3 717.4,105.2 718.1,107.8 718.9,106.4 719.7,105.9 720.5,103.7 721.3,107.1 722,105.5 722.8,105.4 723.6,103.7 724.4,103 725.2,105.1 725.9,103.7 726.7,105.9 727.5,105.8 728.3,107 729.1,107.8 729.8,104.7 730.6,106 731.4,107.4 732.2,106.1 732.9,106.6 733.7,108.3 734.5,105.2 735.3,104.3 736.1,105.4 736.8,107.5 737.6,106.2 738.4,107.1 739.2,107.2 740,106.5 740.7,103.7 741.5,103.8 742.3,103.8 743.1,103 743.8,106.6 744.6,105.8 745.4,106.4 746.2,106.4 747,103.3 747.7,104.5 748.5,104.2 749.3,103.2 750.1,106.3 750.9,106.9 751.6,104.7 752.4,108.8 753.2,105.1 754,107.5 754.7,108.6 755.5,107.4 756.3,107.6 757.1,103.8 757.9,107 758.6,106.7 759.4,103.8 760.2,105.8 761,105.4 761.8,103.5 762.5,105.3 763.3,104 764.1,106.2 764.9,107.1 765.6,107.5 766.4,104.1 767.2,107.5 768,107.9 768.8,107.5 769.5,105.6 770.3,104.7 771.1,105.4 771.9,104.6 772.7,105 773.4,103.7 774.2,104.2 775,106 775.8,105.1 776.6,102.7 777.3,105.7 778.1,105.2 778.9,108.1 779.7,106.4 780.4,106.7 781.2,109 782,105.3 782.8,107.7 783.6,107.7 784.3,106.1 785.1,104.8 785.9,105 786.7,106.1 787.5,108.3 788.2,106.1 789,105.3 789.8,104.1 790.6,106.9 791.3,105.5 792.1,104.5 792.9,104.1 793.7,106.8 794.5,102.8 795.2,106.1 796,103.1 796.8,103.4 797.6,104.9 798.4,105.6 799.1,106.8 799.9,107 800.7,104.9 801.5,106.2 802.2,106.7 803,106.7 803.8,103.4 804.6,103.2 805.4,102.9 806.1,102.4 806.9,104.6 807.7,102.4 808.5,103.3 809.3,102.5 810,103.5 810.8,103.3 811.6,103.6 812.4,104.9 813.2,104.5 813.9,107.3 814.7,105.8 815.5,103.8 816.3,107 817,105.8 817.8,104.4 818.6,105.1" fill="none" stroke="#0000ff" stroke-width="1.05" stroke-linejoin="round" />
</g>
<rect x="639.5" y="40.4" width="179.7" height="106.8" fill="none" stroke="#1a1a1a" stroke-width="1.1"/>
<text transform="translate(639.5 163) scale(1.025 1)" font-family='"Liberation Sans", Arial, Helvetica, sans-serif' font-size="10.8" font-weight="normal" text-anchor="middle" fill="#111" stroke="#111" stroke-width="0.3" >0</text>
<line x1="699.4" y1="147.2" x2="699.4" y2="144.7" stroke="#1a1a1a" stroke-width="1" />
<line x1="699.4" y1="40.4" x2="699.4" y2="42.9" stroke="#1a1a1a" stroke-width="1" />
<text transform="translate(699.4 163) scale(1.025 1)" font-family='"Liberation Sans", Arial, Helvetica, sans-serif' font-size="10.8" font-weight="normal" text-anchor="middle" fill="#111" stroke="#111" stroke-width="0.3" >200</text>
<line x1="759.3" y1="147.2" x2="759.3" y2="144.7" stroke="#1a1a1a" stroke-width="1" />
<line x1="759.3" y1="40.4" x2="759.3" y2="42.9" stroke="#1a1a1a" stroke-width="1" />
<text transform="translate(759.3 163) scale(1.025 1)" font-family='"Liberation Sans", Arial, Helvetica, sans-serif' font-size="10.8" font-weight="normal" text-anchor="middle" fill="#111" stroke="#111" stroke-width="0.3" >400</text>
<text transform="translate(819.2 163) scale(1.025 1)" font-family='"Liberation Sans", Arial, Helvetica, sans-serif' font-size="10.8" font-weight="normal" text-anchor="middle" fill="#111" stroke="#111" stroke-width="0.3" >600</text>
<line x1="639.5" y1="122.4" x2="642" y2="122.4" stroke="#1a1a1a" stroke-width="1" />
<line x1="819.2" y1="122.4" x2="816.7" y2="122.4" stroke="#1a1a1a" stroke-width="1" />
<text transform="translate(633.2 126.3) scale(1.025 1)" font-family='"Liberation Sans", Arial, Helvetica, sans-serif' font-size="10.8" font-weight="normal" text-anchor="end" fill="#111" stroke="#111" stroke-width="0.3" >0</text>
<line x1="639.5" y1="95.1" x2="642" y2="95.1" stroke="#1a1a1a" stroke-width="1" />
<line x1="819.2" y1="95.1" x2="816.7" y2="95.1" stroke="#1a1a1a" stroke-width="1" />
<text transform="translate(633.2 99) scale(1.025 1)" font-family='"Liberation Sans", Arial, Helvetica, sans-serif' font-size="10.8" font-weight="normal" text-anchor="end" fill="#111" stroke="#111" stroke-width="0.3" >50</text>
<line x1="639.5" y1="67.7" x2="642" y2="67.7" stroke="#1a1a1a" stroke-width="1" />
<line x1="819.2" y1="67.7" x2="816.7" y2="67.7" stroke="#1a1a1a" stroke-width="1" />
<text transform="translate(633.2 71.6) scale(1.025 1)" font-family='"Liberation Sans", Arial, Helvetica, sans-serif' font-size="10.8" font-weight="normal" text-anchor="end" fill="#111" stroke="#111" stroke-width="0.3" >100</text>
<text transform="translate(633.2 44.2) scale(1.025 1)" font-family='"Liberation Sans", Arial, Helvetica, sans-serif' font-size="10.8" font-weight="normal" text-anchor="end" fill="#111" stroke="#111" stroke-width="0.3" >150</text>
<text transform="translate(606.8 143.6)" font-family='"Liberation Serif", "Times New Roman", Times, serif' font-size="15" font-weight="bold" text-anchor="start" fill="#000" stroke="#000" stroke-width="0.25" >(μm)</text>
<text transform="translate(753.6 201.4)" font-family='"Liberation Serif", "Times New Roman", Times, serif' font-size="21.6" font-weight="bold" text-anchor="start" fill="#0a0aff" stroke="#0a0aff" stroke-width="0.25" >Sensor</text>
<line x1="784.5" y1="229.5" x2="784.5" y2="213" stroke="#0a0aff" stroke-width="1.8" />
<polygon points="784.5,208.6 781.3,213.8 787.7,213.8" fill="#0a0aff" stroke="#0a0aff" stroke-width="1" stroke-linejoin="round"/>
<line x1="779.8" y1="244.9" x2="801" y2="244.9" stroke="#ff0a0a" stroke-width="1.8" />
<polygon points="806.6,244.9 801,241.6 801,248.2" fill="#ff0a0a" stroke="#ff0a0a" stroke-width="1" stroke-linejoin="round"/>
<text transform="translate(812.6 250)" font-family='"Liberation Serif", "Times New Roman", Times, serif' font-size="21.4" font-weight="bold" text-anchor="start" fill="#ff0a0a" stroke="#ff0a0a" stroke-width="0.25" >Extensometer</text>
<text transform="translate(773 426.3)" font-family='"Liberation Serif", "Times New Roman", Times, serif' font-size="24.5" font-weight="normal" text-anchor="middle" fill="#000" stroke="#000" stroke-width="0.25" >(<tspan font-weight="bold">b</tspan>)</text>
<rect x="334" y="442.2" width="407.6" height="297.3" fill="none" stroke="#1a1a1a" stroke-width="1.1"/>
<text transform="translate(334 761) scale(1.025 1)" font-family='"Liberation Sans", Arial, Helvetica, sans-serif' font-size="16.6" font-weight="normal" text-anchor="middle" fill="#111" stroke="#111" stroke-width="0.3" >0</text>
<line x1="424.4" y1="739.5" x2="424.4" y2="735.3" stroke="#1a1a1a" stroke-width="1.1" />
<line x1="424.4" y1="442.2" x2="424.4" y2="446.4" stroke="#1a1a1a" stroke-width="1.1" />
<text transform="translate(424.4 761) scale(1.025 1)" font-family='"Liberation Sans", Arial, Helvetica, sans-serif' font-size="16.6" font-weight="normal" text-anchor="middle" fill="#111" stroke="#111" stroke-width="0.3" >0.02</text>
<line x1="514.8" y1="739.5" x2="514.8" y2="735.3" stroke="#1a1a1a" stroke-width="1.1" />
<line x1="514.8" y1="442.2" x2="514.8" y2="446.4" stroke="#1a1a1a" stroke-width="1.1" />
<text transform="translate(514.8 761) scale(1.025 1)" font-family='"Liberation Sans", Arial, Helvetica, sans-serif' font-size="16.6" font-weight="normal" text-anchor="middle" fill="#111" stroke="#111" stroke-width="0.3" >0.04</text>
<line x1="605.2" y1="739.5" x2="605.2" y2="735.3" stroke="#1a1a1a" stroke-width="1.1" />
<line x1="605.2" y1="442.2" x2="605.2" y2="446.4" stroke="#1a1a1a" stroke-width="1.1" />
<text transform="translate(605.2 761) scale(1.025 1)" font-family='"Liberation Sans", Arial, Helvetica, sans-serif' font-size="16.6" font-weight="normal" text-anchor="middle" fill="#111" stroke="#111" stroke-width="0.3" >0.06</text>
<line x1="695.6" y1="739.5" x2="695.6" y2="735.3" stroke="#1a1a1a" stroke-width="1.1" />
<line x1="695.6" y1="442.2" x2="695.6" y2="446.4" stroke="#1a1a1a" stroke-width="1.1" />
<text transform="translate(695.6 761) scale(1.025 1)" font-family='"Liberation Sans", Arial, Helvetica, sans-serif' font-size="16.6" font-weight="normal" text-anchor="middle" fill="#111" stroke="#111" stroke-width="0.3" >0.08</text>
<text transform="translate(327.4 745.4) scale(1.025 1)" font-family='"Liberation Sans", Arial, Helvetica, sans-serif' font-size="16.6" font-weight="normal" text-anchor="end" fill="#111" stroke="#111" stroke-width="0.3" >0</text>
<line x1="334" y1="690" x2="338.2" y2="690" stroke="#1a1a1a" stroke-width="1.1" />
<line x1="741.6" y1="690" x2="737.4" y2="690" stroke="#1a1a1a" stroke-width="1.1" />
<text transform="translate(327.4 695.9) scale(1.025 1)" font-family='"Liberation Sans", Arial, Helvetica, sans-serif' font-size="16.6" font-weight="normal" text-anchor="end" fill="#111" stroke="#111" stroke-width="0.3" >100</text>
<line x1="334" y1="640.4" x2="338.2" y2="640.4" stroke="#1a1a1a" stroke-width="1.1" />
<line x1="741.6" y1="640.4" x2="737.4" y2="640.4" stroke="#1a1a1a" stroke-width="1.1" />
<text transform="translate(327.4 646.3) scale(1.025 1)" font-family='"Liberation Sans", Arial, Helvetica, sans-serif' font-size="16.6" font-weight="normal" text-anchor="end" fill="#111" stroke="#111" stroke-width="0.3" >200</text>
<line x1="334" y1="590.9" x2="338.2" y2="590.9" stroke="#1a1a1a" stroke-width="1.1" />
<line x1="741.6" y1="590.9" x2="737.4" y2="590.9" stroke="#1a1a1a" stroke-width="1.1" />
<text transform="translate(327.4 596.8) scale(1.025 1)" font-family='"Liberation Sans", Arial, Helvetica, sans-serif' font-size="16.6" font-weight="normal" text-anchor="end" fill="#111" stroke="#111" stroke-width="0.3" >300</text>
<line x1="334" y1="541.3" x2="338.2" y2="541.3" stroke="#1a1a1a" stroke-width="1.1" />
<line x1="741.6" y1="541.3" x2="737.4" y2="541.3" stroke="#1a1a1a" stroke-width="1.1" />
<text transform="translate(327.4 547.2) scale(1.025 1)" font-family='"Liberation Sans", Arial, Helvetica, sans-serif' font-size="16.6" font-weight="normal" text-anchor="end" fill="#111" stroke="#111" stroke-width="0.3" >400</text>
<line x1="334" y1="491.8" x2="338.2" y2="491.8" stroke="#1a1a1a" stroke-width="1.1" />
<line x1="741.6" y1="491.8" x2="737.4" y2="491.8" stroke="#1a1a1a" stroke-width="1.1" />
<text transform="translate(327.4 497.6) scale(1.025 1)" font-family='"Liberation Sans", Arial, Helvetica, sans-serif' font-size="16.6" font-weight="normal" text-anchor="end" fill="#111" stroke="#111" stroke-width="0.3" >500</text>
<text transform="translate(327.4 448.1) scale(1.025 1)" font-family='"Liberation Sans", Arial, Helvetica, sans-serif' font-size="16.6" font-weight="normal" text-anchor="end" fill="#111" stroke="#111" stroke-width="0.3" >600</text>
<text transform="translate(285.3 591) rotate(-90) scale(1.025 1)" font-family='"Liberation Sans", Arial, Helvetica, sans-serif' font-size="16.6" font-weight="normal" text-anchor="middle" fill="#111" stroke="#111" stroke-width="0.3" >Stress (MPa)</text>
<text transform="translate(537 784.6) scale(1.025 1)" font-family='"Liberation Sans", Arial, Helvetica, sans-serif' font-size="16.6" font-weight="normal" text-anchor="middle" fill="#111" stroke="#111" stroke-width="0.3" >Strain</text>
<clipPath id="cc"><rect x="334" y="442.2" width="407.6" height="297.3"/></clipPath>
<g clip-path="url(#cc)">
<polyline points="334,739.1 328,735.9 342,735 329.1,731.6 334.3,730.2 342.6,727.4 336.7,723.6 335.5,716 331.9,709.4 332.2,702.8 330.6,698 333.2,693.7 331.3,689.5 335.8,686.1 346.5,683.8 331.9,681.5 347.7,677.7 343.5,675.8 339.9,673.4 339.1,671.5 340.5,666.7 339.1,661.1 341.7,657.3 348.3,655 345.3,652.5 346.5,650.3 333.1,646.9 348.7,640.6 335.5,638.3 346.5,631.6 333.1,629.7 333.5,626.5 349,623.1 343.5,620.8 342.3,616.5 334.9,614.2 350.5,605.1 345.2,597.5 348,594.7 333.8,592.4 349.8,586.2 335.9,578.6 348.7,576.7 346.7,573.5 347.7,571.6 335.5,568.2 347.5,566.6 333.1,563.4 346.2,558.3 334.9,556.4 346.9,551.5 339.4,549.2 347.7,546.9 334.4,545.9 343.7,547.8 336,546 346.9,546.1 338,545.9 347.9,544.9 333.6,544.9 347.9,545.8 339.5,546.3 345.5,546.1 338.5,544.8 350.1,544.2 337.7,545.9 344.4,544.5 336.9,543.6 345.9,543.5 336.6,544 347.2,544.5 334.2,544.4 346.8,543.5 337.4,542.6 348.2,543.7 337.7,543.7 347.9,543.3 338.6,542.9 345.8,542.5 339,541.1 345.6,540.3 338.1,540.4 345.2,542.2 337.9,541.7 345.4,541.1 337.6,541.3 345.9,540.8 338.5,541 344.4,538.7 334.9,540.5 343.7,538.9 338.9,539.4 344.5,540 336.5,539.7 346.5,538 335.9,538.4 346.2,538 336.7,539 347.7,536.6 338.4,536.7 343.9,538.3 332.6,537.7 345.7,536.7 338.8,537 344.1,534.8 338.5,536.3 346.6,534.7 335.6,534.5 347.8,536.8 336.7,535.9 347.7,537.8 340.2,535.2 352.5,539 356.6,538.6 358,540.2 360,540 368,540.8 374,541 380,538.8 386,540.8 392,538.6 398,540.6 420,540.6 440,541.2 450,540.8 458.9,540.8 460.2,537.6 462.7,540.2 464.6,542 465.2,538.9 470.3,535.7 469,533.8 472.2,533.2 470.3,530.6 479.2,528.7 477.9,529.6 488.1,526.8 486.8,524.3 494.4,523.6 493.2,523.2 503.3,521.1 513.5,517.3 521.1,514.1 519.8,512.9 526.2,512.6 530,510.9 531.2,509 541.4,507.8 550.3,505.9 557.9,502.7 569.3,500.8 580,500.2 585.4,497.8 588.4,497.7 591.5,496.8 594.5,496.7 597.6,495.9 600.6,495.4 603.7,494.5 606.8,494.6 609.8,493.3 612.9,493 615.9,492.7 619,492.4 622,491.7 625.1,491.1 628.1,491.2 631.2,490.9 634.2,489.9 637.3,489.9 640.3,489 643.4,488.9 646.5,488.3 649.5,488.6 652.6,487.8 655.6,487.9 658.7,487.4 661.7,487 664.8,486.1 667.8,485.6 670.9,485.6 674,485.4 677.1,484.7 680.2,484.9 683.3,484.3 686.3,484.1 689.4,484.1 692.5,483.4 695.6,482.8 698.7,482.5 701.8,482.5 704.9,482.2 708,482 711,481.5 714.1,481.4 717.2,480.8 720.3,480.7 723.4,480.3" fill="none" stroke="#ff0000" stroke-width="1.3" stroke-linejoin="round" />
<polyline points="334,738.8 332.8,731.2 332.9,728.3 335.8,714.1 336.2,709.4 335,703.7 335,698 337.1,693.3 337,689.5 335.3,686.6 337.1,681 337.1,667.7 338.2,664.9 337.3,662 338.2,659.2 337.3,655.4 338.2,651.6 338.2,646.9 337.1,644 337.1,632.6 337.3,632.6 339.2,629.7 337.4,626.5 338.3,623.1 338.3,617.4 336.5,613.6 338.2,610.8 338.3,605.1 339.2,603.2 339.2,583.3 341.4,576.7 339.4,573.5 341.3,570 339.5,566.6 340.4,562.8 339.7,558.7 341.4,556.4 339.4,553 340.4,549.2 339.4,547.3 341.4,545.8 339.9,540.7 341.4,539 343.5,538.8 348.9,539.3 352,540.9 366,540.9 372,540.2 379,537.6 384,540.6 392,540.9 420,541 450,541.3 470.9,541.8 480.5,537.6 483,542 488.1,538.2 489.4,537 487.5,534.4 490.6,530.6 495.7,529.4 495.1,528.7 504.6,525.5 516,522.4 518.6,520.5 521.1,519.5 522.4,517.3 528.7,516 531.2,514.8 543.9,512.9 551.6,510.3 557.9,505.9 564.3,504 570.6,502.1 580,501 585.4,497.6 590.3,496.8 595.1,495.3 600,495.6 605.5,494.6 611,493.3 616.5,492.2 622,491.3 626.7,490.5 631.3,489.8 636,490.2 640.7,489.1 645.3,488.6 650,488.6 655.2,488 660.5,487 665.7,485.4 670.9,485.3 675.8,484.8 680.6,483.7 685.5,484.4 690.3,484.1 695.1,482.9 700,482.4 704.7,482.7 709.4,480.8 714,481.3 718.7,480 723.4,480.5" fill="none" stroke="#0000ff" stroke-width="1.15" stroke-linejoin="round" />
<polyline points="550.3,505.9 557.9,502.7 569.3,500.8 580,500.2 585.4,497.8 588.4,497.7 591.5,496.8 594.5,496.7 597.6,495.9 600.6,495.4 603.7,494.5 606.8,494.6 609.8,493.3 612.9,493 615.9,492.7 619,492.4 622,491.7 625.1,491.1 628.1,491.2 631.2,490.9 634.2,489.9 637.3,489.9 640.3,489 643.4,488.9 646.5,488.3 649.5,488.6 652.6,487.8 655.6,487.9 658.7,487.4 661.7,487 664.8,486.1 667.8,485.6 670.9,485.6 674,485.4 677.1,484.7 680.2,484.9 683.3,484.3 686.3,484.1 689.4,484.1 692.5,483.4 695.6,482.8 698.7,482.5 701.8,482.5 704.9,482.2 708,482 711,481.5 714.1,481.4 717.2,480.8 720.3,480.7 723.4,480.3" fill="none" stroke="#ff0000" stroke-width="1.3" stroke-linejoin="round" />
</g>
<polyline points="354.3,541.5 354.3,725.4 337,737.4" fill="none" stroke="#000" stroke-width="3.1" stroke-dasharray="7.6 4.4" stroke-linejoin="round"/>
<line x1="354.5" y1="627.9" x2="500" y2="627.9" stroke="#000" stroke-width="3.0" />
<polygon points="506.6,627.9 498,623.4 498,632.4" fill="#000" stroke="#000" stroke-width="1.6" stroke-linejoin="round"/>
<rect x="509.4" y="533" width="219" height="193.6" fill="#fff" stroke="#000" stroke-width="1.8"/>
<clipPath id="ci"><rect x="539.7" y="541.7" width="177.2" height="160.9"/></clipPath>
<g clip-path="url(#ci)">
<polyline points="605.2,702.3 575.9,699.8 644.7,699.1 581,696.5 606.6,695.4 647.6,693.2 618.3,690.3 612.5,684.4 594.9,679.3 596.4,674.2 588.3,670.5 601.5,667.2 592,663.9 613.9,661.3 666.7,659.5 594.9,657.8 672.5,654.9 652,653.4 634.4,651.5 630.1,650 637.4,646.4 630.1,642 643.2,639 675.5,637.3 660.8,635.4 666.7,633.6 600.8,631 677.7,626.2 612.5,624.4 666.7,619.2 600.8,617.8 603,615.3 679.1,612.6 652,610.9 646.2,607.5 609.5,605.7 686.4,598.7 660.1,592.9 674,590.7 604.4,588.9 682.8,584.1 614.7,578.2 677.7,576.7 667.4,574.3 672.5,572.8 612.5,570.2 671.8,569 600.8,566.5 665.2,562.5 609.5,561.1 668.9,557.3 631.5,555.5 672.5,553.7 607.1,553 652.9,554.4 614.9,553 668.6,553.1 625.1,552.9 673.6,552.2 603.2,552.2 673.5,552.9 632.4,553.3 661.6,553.1 627.5,552.1 684.6,551.7 623.3,553 656.2,551.9 619.4,551.2 663.5,551.1 618.1,551.5 670.1,551.9 606.3,551.8 668.3,551.1 621.8,550.4 674.9,551.2 623.3,551.3 673.4,550.9 627.7,550.7 663.3,550.3 629.6,549.2 662,548.6 625.2,548.7 660.2,550.1 624.5,549.7 661.3,549.2 622.8,549.4 663.5,549 627.3,549.2 656.5,547.4 609.7,548.8 653.1,547.5 629.3,548 656.9,548.4 617.3,548.1 666.6,546.8 614.7,547.1 665.1,546.9 618.6,547.6 672.3,545.8 626.8,545.8 653.8,547.1 598.3,546.6 663,545.8 628.8,546.1 654.9,544.4 627.5,545.5 667.3,544.3 613,544.1 673,545.9 618.3,545.3 672.5,546.7 635.9,544.7 696,547.6 716.5,547.3 760,547" fill="none" stroke="#ff0000" stroke-width="1.3" stroke-linejoin="round" />
<polyline points="605.2,702 599.3,696.2 600,694 613.9,683 616.1,679.3 610.3,674.9 610.3,670.5 620.5,666.9 619.8,663.9 611.7,661.7 620.5,657.4 620.5,647.1 625.7,644.9 621.3,642.7 625.7,640.5 621.3,637.6 625.7,634.6 625.7,631 620.5,628.8 620.5,620 621.3,620 630.8,617.8 622,615.3 626.4,612.6 626.4,608.2 617.6,605.3 625.7,603.1 626.4,598.7 630.8,597.3 630.8,581.9 641.8,576.7 631.5,574.3 641,571.6 632.3,569 636.6,566.1 633,562.8 641.8,561.1 631.5,558.4 636.6,555.5 631.5,554 641.8,552.9 634.4,548.9 641.8,547.6 652,547.5 678.4,547.9 697.4,548.9 716.5,548.9 760,549" fill="none" stroke="#0000ff" stroke-width="1.15" stroke-linejoin="round" />
</g>
<rect x="539.7" y="541.7" width="177.2" height="160.9" fill="none" stroke="#1a1a1a" stroke-width="1.1"/>
<line x1="560.8" y1="702.6" x2="560.8" y2="700.1" stroke="#1a1a1a" stroke-width="1" />
<line x1="560.8" y1="541.7" x2="560.8" y2="544.2" stroke="#1a1a1a" stroke-width="1" />
<text transform="translate(558.8 717.8) scale(1.025 1)" font-family='"Liberation Sans", Arial, Helvetica, sans-serif' font-size="10.8" font-weight="normal" text-anchor="middle" fill="#111" stroke="#111" stroke-width="0.3" >-2,000</text>
<line x1="605.2" y1="702.6" x2="605.2" y2="700.1" stroke="#1a1a1a" stroke-width="1" />
<line x1="605.2" y1="541.7" x2="605.2" y2="544.2" stroke="#1a1a1a" stroke-width="1" />
<text transform="translate(605.2 717.8) scale(1.025 1)" font-family='"Liberation Sans", Arial, Helvetica, sans-serif' font-size="10.8" font-weight="normal" text-anchor="middle" fill="#111" stroke="#111" stroke-width="0.3" >0</text>
<line x1="649.7" y1="702.6" x2="649.7" y2="700.1" stroke="#1a1a1a" stroke-width="1" />
<line x1="649.7" y1="541.7" x2="649.7" y2="544.2" stroke="#1a1a1a" stroke-width="1" />
<text transform="translate(649.7 717.8) scale(1.025 1)" font-family='"Liberation Sans", Arial, Helvetica, sans-serif' font-size="10.8" font-weight="normal" text-anchor="middle" fill="#111" stroke="#111" stroke-width="0.3" >2,000</text>
<line x1="694.1" y1="702.6" x2="694.1" y2="700.1" stroke="#1a1a1a" stroke-width="1" />
<line x1="694.1" y1="541.7" x2="694.1" y2="544.2" stroke="#1a1a1a" stroke-width="1" />
<text transform="translate(694.1 717.8) scale(1.025 1)" font-family='"Liberation Sans", Arial, Helvetica, sans-serif' font-size="10.8" font-weight="normal" text-anchor="middle" fill="#111" stroke="#111" stroke-width="0.3" >4,000</text>
<text transform="translate(532.8 706.5) scale(1.025 1)" font-family='"Liberation Sans", Arial, Helvetica, sans-serif' font-size="10.8" font-weight="normal" text-anchor="end" fill="#111" stroke="#111" stroke-width="0.3" >0</text>
<line x1="539.7" y1="664.3" x2="542.2" y2="664.3" stroke="#1a1a1a" stroke-width="1" />
<line x1="716.9" y1="664.3" x2="714.4" y2="664.3" stroke="#1a1a1a" stroke-width="1" />
<text transform="translate(532.8 668.2) scale(1.025 1)" font-family='"Liberation Sans", Arial, Helvetica, sans-serif' font-size="10.8" font-weight="normal" text-anchor="end" fill="#111" stroke="#111" stroke-width="0.3" >100</text>
<line x1="539.7" y1="626" x2="542.2" y2="626" stroke="#1a1a1a" stroke-width="1" />
<line x1="716.9" y1="626" x2="714.4" y2="626" stroke="#1a1a1a" stroke-width="1" />
<text transform="translate(532.8 629.9) scale(1.025 1)" font-family='"Liberation Sans", Arial, Helvetica, sans-serif' font-size="10.8" font-weight="normal" text-anchor="end" fill="#111" stroke="#111" stroke-width="0.3" >200</text>
<line x1="539.7" y1="587.7" x2="542.2" y2="587.7" stroke="#1a1a1a" stroke-width="1" />
<line x1="716.9" y1="587.7" x2="714.4" y2="587.7" stroke="#1a1a1a" stroke-width="1" />
<text transform="translate(532.8 591.6) scale(1.025 1)" font-family='"Liberation Sans", Arial, Helvetica, sans-serif' font-size="10.8" font-weight="normal" text-anchor="end" fill="#111" stroke="#111" stroke-width="0.3" >300</text>
<line x1="539.7" y1="549.4" x2="542.2" y2="549.4" stroke="#1a1a1a" stroke-width="1" />
<line x1="716.9" y1="549.4" x2="714.4" y2="549.4" stroke="#1a1a1a" stroke-width="1" />
<text transform="translate(532.8 553.3) scale(1.025 1)" font-family='"Liberation Sans", Arial, Helvetica, sans-serif' font-size="10.8" font-weight="normal" text-anchor="end" fill="#111" stroke="#111" stroke-width="0.3" >400</text>
<text transform="translate(653.8 692.6)" font-family='"Liberation Serif", "Times New Roman", Times, serif' font-size="17.6" font-weight="bold" text-anchor="start" fill="#000" stroke="#000" stroke-width="0.25" >μstrain</text>
<text transform="translate(439.4 486.8)" font-family='"Liberation Serif", "Times New Roman", Times, serif' font-size="21.4" font-weight="bold" text-anchor="start" fill="#ff0a0a" stroke="#ff0a0a" stroke-width="0.25" >Extensometer</text>
<line x1="501.8" y1="520" x2="501.8" y2="498" stroke="#ff0000" stroke-width="1.8" />
<polygon points="501.8,493.3 498.5,498.7 505.1,498.7" fill="#ff0000" stroke="#ff0000" stroke-width="1" stroke-linejoin="round"/>
<line x1="521" y1="522.4" x2="548" y2="522.4" stroke="#0000ff" stroke-width="1.8" />
<polygon points="552.9,522.4 547.3,519.2 547.3,525.6" fill="#0000ff" stroke="#0000ff" stroke-width="1" stroke-linejoin="round"/>
<text transform="translate(558.2 527.2)" font-family='"Liberation Serif", "Times New Roman", Times, serif' font-size="21.6" font-weight="bold" text-anchor="start" fill="#0a0aff" stroke="#0a0aff" stroke-width="0.25" >Sensor</text>
<text transform="translate(510.9 824.2)" font-family='"Liberation Serif", "Times New Roman", Times, serif' font-size="24.5" font-weight="normal" text-anchor="middle" fill="#000" stroke="#000" stroke-width="0.25" >(<tspan font-weight="bold">c</tspan>)</text>
</svg></body></html>
